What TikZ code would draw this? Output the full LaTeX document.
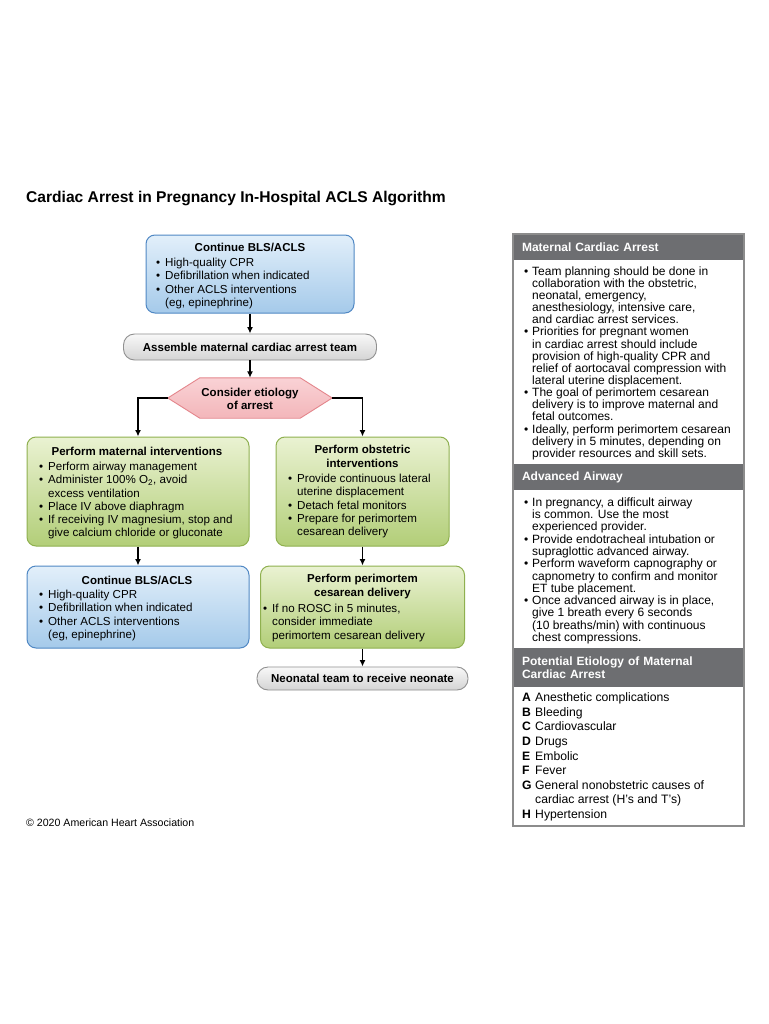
\documentclass[tikz,border=0pt]{standalone}
\usepackage{fontspec}
\setmainfont{Liberation Sans}
\usetikzlibrary{arrows.meta}
\definecolor{bluetop}{HTML}{E2EFFA}
\definecolor{bluebot}{HTML}{A5CAEA}
\definecolor{bluebd}{HTML}{5088C4}
\definecolor{greentop}{HTML}{EAF2D2}
\definecolor{greenbot}{HTML}{B2CE78}
\definecolor{greenbd}{HTML}{8FB04F}
\definecolor{pilltop}{HTML}{F8F8F8}
\definecolor{pillbot}{HTML}{D4D4D4}
\definecolor{pillbd}{HTML}{909090}
\definecolor{hextop}{HTML}{F9D2D5}
\definecolor{hexbot}{HTML}{F3B6BA}
\definecolor{hexbd}{HTML}{E4868C}
\definecolor{hdrgray}{HTML}{6D6E71}
\definecolor{panelbd}{HTML}{8C8C8C}
\newcommand{\myboldf}{\fontsize{11.5}{13.3}\selectfont\bfseries}
\newcommand{\myregf}{\fontsize{11.6}{13.3}\selectfont}
\newcommand{\mytop}{\vrule height 0.7\baselineskip depth 0pt width 0pt}
\newcommand{\mb}{\makebox[9pt][l]{\textbullet}}
\newcommand{\mc}{\hspace*{9pt}}
\newcommand{\pb}{\makebox[8pt][l]{\textbullet}}
\newcommand{\pc}{\hspace*{8pt}}
\newcommand{\lt}[1]{\makebox[13pt][l]{\bfseries #1}}
\newcommand{\ltc}{\hspace*{13pt}}
\tikzset{
  bluebox/.style={draw=bluebd, line width=1pt, rounded corners=9pt, top color=bluetop, bottom color=bluebot, inner sep=0},
  greenbox/.style={draw=greenbd, line width=1pt, rounded corners=9pt, top color=greentop, bottom color=greenbot, inner sep=0},
  pill/.style={draw=pillbd, line width=0.9pt, rounded corners=11pt, top color=pilltop, bottom color=pillbot, inner sep=0, font=\myboldf},
  ttl/.style={font=\myboldf, align=center, inner sep=0},
  body/.style={font=\myregf, align=left, anchor=north west, inner sep=0},
  arr/.style={-{Latex[length=6.5pt,width=6pt]}, line width=1.3pt, black},
  hdr/.style={fill=hdrgray, text=white, font=\fontsize{12}{12.6}\selectfont\bfseries, align=left, text width=213pt, inner xsep=9pt, inner ysep=0},
  pbody/.style={align=left, anchor=north west, inner sep=0},
}
\begin{document}
\begin{tikzpicture}[x=1pt,y=-1pt]
\useasboundingbox[fill=white] (0,0) rectangle (768,1024);

% title
\node[anchor=west, inner sep=0, font=\fontsize{15.6}{18}\selectfont\bfseries] (title) at (26,199) {Cardiac Arrest in Pregnancy In-Hospital ACLS Algorithm};

% top blue box
\node[bluebox, minimum width=208pt, minimum height=78pt] (b1) at (250,274) {};
\node[ttl] (b1t) at (250,247) {Continue BLS/ACLS};
\node[body] (b1b) at (156,256.9) {\mytop\mb High-quality CPR\\
\mb Defibrillation when indicated\\
\mb Other ACLS interventions\\
\mc (eg, epinephrine)};

% assemble pill
\node[pill, minimum width=253pt, minimum height=26pt] (asm) at (250,347) {Assemble maternal cardiac arrest team};

% hexagon
\node[minimum width=164pt, minimum height=40pt, inner sep=0] (hex) at (250,398) {};
\path[draw=hexbd, line width=0.9pt, top color=hextop, bottom color=hexbot]
  (hex.west) -- ([xshift=32pt]hex.north west) -- ([xshift=-32pt]hex.north east) -- (hex.east)
  -- ([xshift=-32pt]hex.south east) -- ([xshift=32pt]hex.south west) -- cycle;
\node[ttl, font=\fontsize{11.5}{12.6}\selectfont\bfseries] (hext) at (250,399) {Consider etiology\\of arrest};

% green boxes row 1
\node[greenbox, minimum width=222pt, minimum height=109pt] (L1) at (138,491.5) {};
\node[ttl] (L1t) at (137,451) {Perform maternal interventions};
\node[body] (L1b) at (39,460.9) {\mytop\mb Perform airway management\\
\mb Administer 100\% O\textsubscript{2}, avoid\\
\mc excess ventilation\\
\mb Place IV above diaphragm\\
\mb If receiving IV magnesium, stop and\\
\mc give calcium chloride or gluconate};

\node[greenbox, minimum width=173pt, minimum height=109pt] (R1) at (362.5,491.5) {};
\node[ttl] (R1t) at (362.5,456.5) {Perform obstetric\\interventions};
\node[body] (R1b) at (288,472.9) {\mytop\mb Provide continuous lateral\\
\mc uterine displacement\\
\mb Detach fetal monitors\\
\mb Prepare for perimortem\\
\mc cesarean delivery};

% row 2
\node[bluebox, minimum width=222pt, minimum height=82pt] (L2) at (138,607) {};
\node[ttl] (L2t) at (137,580) {Continue BLS/ACLS};
\node[body] (L2b) at (39,588.9) {\mytop\mb High-quality CPR\\
\mb Defibrillation when indicated\\
\mb Other ACLS interventions\\
\mc (eg, epinephrine)};

\node[greenbox, minimum width=204pt, minimum height=82pt] (R2) at (362.5,607) {};
\node[ttl] (R2t) at (362.5,586.5) {Perform perimortem\\cesarean delivery};
\node[body] (R2b) at (263,602.9) {\mytop\mb If no ROSC in 5 minutes,\\
\mc consider immediate\\
\mc perimortem cesarean delivery};

\node[pill, minimum width=211pt, minimum height=23pt] (neo) at (362.5,678.5) {Neonatal team to receive neonate};

% connectors
\draw[arr] (b1.south) -- (asm.north);
\draw[arr] (asm.south) -- (hex.north);
\draw[arr] (hex.west) -| (L1.north);
\draw[arr] (hex.east) -| (R1.north);
\draw[arr] (L1.south) -- (L2.north);
\draw[arr] (R1.south) -- (R2.north);
\draw[arr] (R2.south) -- (neo.north);

% right panel
\node[hdr, minimum height=25pt] (h1) at (628.5,247) {Maternal Cardiac Arrest};
\node[pbody, font=\fontsize{12}{12.15}\selectfont] (p1) at (524,266.3) {\mytop\pb Team planning should be done in\\
\pc collaboration with the obstetric,\\
\pc neonatal, emergency,\\
\pc anesthesiology, intensive care,\\
\pc and cardiac arrest services.\\
\pb Priorities for pregnant women\\
\pc in cardiac arrest should include\\
\pc provision of high-quality CPR and\\
\pc relief of aortocaval compression with\\
\pc lateral uterine displacement.\\
\pb The goal of perimortem cesarean\\
\pc delivery is to improve maternal and\\
\pc fetal outcomes.\\
\pb Ideally, perform perimortem cesarean\\
\pc delivery in 5 minutes, depending on\\
\pc provider resources and skill sets.};

\node[hdr, minimum height=26pt] (h2) at (628.5,477) {Advanced Airway};
\node[pbody, font=\fontsize{12}{12.27}\selectfont] (p2) at (524,497.5) {\mytop\pb In pregnancy, a difficult airway\\
\pc is common. Use the most\\
\pc experienced provider.\\
\pb Provide endotracheal intubation or\\
\pc supraglottic advanced airway.\\
\pb Perform waveform capnography or\\
\pc capnometry to confirm and monitor\\
\pc ET tube placement.\\
\pb Once advanced airway is in place,\\
\pc give 1 breath every 6 seconds\\
\pc (10 breaths/min) with continuous\\
\pc chest compressions.};

\node[hdr, minimum height=39pt] (h3) at (628.5,667.5) {Potential Etiology of Maternal\\Cardiac Arrest};
\node[pbody, font=\fontsize{12.2}{14.6}\selectfont] (p3) at (522,691.2) {\mytop\lt{A}Anesthetic complications\\
\lt{B}Bleeding\\
\lt{C}Cardiovascular\\
\lt{D}Drugs\\
\lt{E}Embolic\\
\lt{F}Fever\\
\lt{G}General nonobstetric causes of\\
\ltc cardiac arrest (H’s and T’s)\\
\lt{H}Hypertension};

\node[draw=panelbd, line width=1.5pt, minimum width=231pt, minimum height=592pt, inner sep=0] (panel) at (628.5,530) {};

% footer
\node[anchor=west, inner sep=0, font=\fontsize{10.6}{12}\selectfont] (foot) at (26,823) {© 2020 American Heart Association};
\end{tikzpicture}
\end{document}
